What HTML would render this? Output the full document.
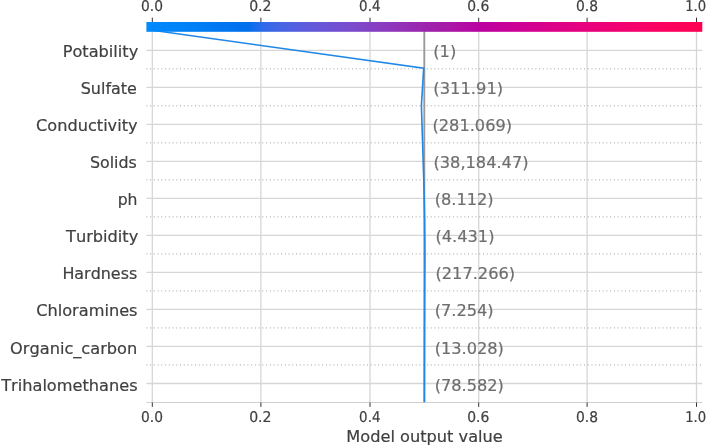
<!DOCTYPE html>
<html><head><meta charset="utf-8"><title>Decision plot</title>
<style>
html,body{margin:0;padding:0;background:#fff;}
body{width:707px;height:447px;overflow:hidden;}
svg{display:block;}
text{font-family:"DejaVu Sans","Liberation Sans",sans-serif;font-kerning:none;font-feature-settings:"kern" 0;}
.t{font-size:13.70px;fill:#404040;stroke:#404040;stroke-width:0.2px;text-anchor:middle;text-rendering:geometricPrecision;}
.f{font-size:16.20px;fill:#404040;stroke:#404040;stroke-width:0.2px;text-anchor:end;}
.v{font-size:16.20px;fill:#6e6e6e;stroke:#6e6e6e;stroke-width:0.2px;}
</style></head><body>
<svg width="707" height="447" viewBox="0 0 707 447">
<defs><linearGradient id="cb" x1="0" x2="1" y1="0" y2="0"><stop offset="0.000" stop-color="#008bfb"/><stop offset="0.030" stop-color="#0086fa"/><stop offset="0.061" stop-color="#0082f8"/><stop offset="0.091" stop-color="#007ef6"/><stop offset="0.121" stop-color="#0079f3"/><stop offset="0.152" stop-color="#0074f0"/><stop offset="0.182" stop-color="#006fed"/><stop offset="0.212" stop-color="#306ae9"/><stop offset="0.242" stop-color="#4664e4"/><stop offset="0.273" stop-color="#575fdf"/><stop offset="0.303" stop-color="#6459da"/><stop offset="0.333" stop-color="#6f52d4"/><stop offset="0.364" stop-color="#794cce"/><stop offset="0.394" stop-color="#8244c7"/><stop offset="0.424" stop-color="#8a3cc0"/><stop offset="0.455" stop-color="#9233b9"/><stop offset="0.485" stop-color="#9829b1"/><stop offset="0.515" stop-color="#a01fab"/><stop offset="0.545" stop-color="#aa17a7"/><stop offset="0.576" stop-color="#b30aa3"/><stop offset="0.606" stop-color="#bc009f"/><stop offset="0.636" stop-color="#c5009a"/><stop offset="0.667" stop-color="#cd0095"/><stop offset="0.697" stop-color="#d40090"/><stop offset="0.727" stop-color="#db008a"/><stop offset="0.758" stop-color="#e10084"/><stop offset="0.788" stop-color="#e7007e"/><stop offset="0.818" stop-color="#ec0078"/><stop offset="0.848" stop-color="#f10072"/><stop offset="0.879" stop-color="#f6006c"/><stop offset="0.909" stop-color="#fa0065"/><stop offset="0.939" stop-color="#fd005f"/><stop offset="0.970" stop-color="#ff0058"/><stop offset="1.000" stop-color="#ff0051"/></linearGradient></defs>
<rect width="707" height="447" fill="#fff"/>
<g stroke="#d6d6d6" stroke-width="1.30" fill="none">
<line x1="152.30" y1="22.00" x2="152.30" y2="402.50"/><line x1="260.90" y1="22.00" x2="260.90" y2="402.50"/><line x1="370.00" y1="22.00" x2="370.00" y2="402.50"/><line x1="478.70" y1="22.00" x2="478.70" y2="402.50"/><line x1="587.10" y1="22.00" x2="587.10" y2="402.50"/><line x1="696.50" y1="22.00" x2="696.50" y2="402.50"/><line x1="146.40" y1="383.49" x2="702.30" y2="383.49"/><line x1="146.40" y1="346.47" x2="702.30" y2="346.47"/><line x1="146.40" y1="309.45" x2="702.30" y2="309.45"/><line x1="146.40" y1="272.43" x2="702.30" y2="272.43"/><line x1="146.40" y1="235.41" x2="702.30" y2="235.41"/><line x1="146.40" y1="198.39" x2="702.30" y2="198.39"/><line x1="146.40" y1="161.37" x2="702.30" y2="161.37"/><line x1="146.40" y1="124.35" x2="702.30" y2="124.35"/><line x1="146.40" y1="87.33" x2="702.30" y2="87.33"/><line x1="146.40" y1="50.31" x2="702.30" y2="50.31"/>
</g>
<g stroke="#a0a0a0" stroke-width="1" stroke-dasharray="1 2.74" fill="none">
<line x1="146.40" y1="364.98" x2="702.30" y2="364.98"/><line x1="146.40" y1="327.96" x2="702.30" y2="327.96"/><line x1="146.40" y1="290.94" x2="702.30" y2="290.94"/><line x1="146.40" y1="253.92" x2="702.30" y2="253.92"/><line x1="146.40" y1="216.90" x2="702.30" y2="216.90"/><line x1="146.40" y1="179.88" x2="702.30" y2="179.88"/><line x1="146.40" y1="142.86" x2="702.30" y2="142.86"/><line x1="146.40" y1="105.84" x2="702.30" y2="105.84"/><line x1="146.40" y1="68.82" x2="702.30" y2="68.82"/>
</g>
<line x1="146.40" y1="402.50" x2="702.30" y2="402.50" stroke="#d0d0d0" stroke-width="1"/>
<line x1="424.30" y1="22.00" x2="424.30" y2="402.50" stroke="#999999" stroke-width="1.87"/>
<polyline points="424.40,402.00 424.50,364.98 424.60,327.96 424.75,290.94 424.95,253.92 424.60,216.90 423.75,179.88 422.60,142.86 421.40,105.84 423.70,68.20 152.30,30.20" fill="none" stroke="#1f87e6" stroke-width="1.6" stroke-linejoin="miter"/>
<rect x="146.40" y="22.00" width="555.90" height="9.80" fill="url(#cb)"/>
<g stroke="#333" stroke-width="1">
<line x1="152.30" y1="17.64" x2="152.30" y2="22.00"/><line x1="152.30" y1="402.50" x2="152.30" y2="406.86"/><line x1="260.90" y1="17.64" x2="260.90" y2="22.00"/><line x1="260.90" y1="402.50" x2="260.90" y2="406.86"/><line x1="370.00" y1="17.64" x2="370.00" y2="22.00"/><line x1="370.00" y1="402.50" x2="370.00" y2="406.86"/><line x1="478.70" y1="17.64" x2="478.70" y2="22.00"/><line x1="478.70" y1="402.50" x2="478.70" y2="406.86"/><line x1="587.10" y1="17.64" x2="587.10" y2="22.00"/><line x1="587.10" y1="402.50" x2="587.10" y2="406.86"/><line x1="696.50" y1="17.64" x2="696.50" y2="22.00"/><line x1="696.50" y1="402.50" x2="696.50" y2="406.86"/>
</g>
<text class="t" transform="translate(152.04 10.90) scale(1 1.080)" textLength="21.90" lengthAdjust="spacingAndGlyphs">0.0</text><text class="t" transform="translate(152.04 421.50) scale(1 1.080)" textLength="21.90" lengthAdjust="spacingAndGlyphs">0.0</text>
<text class="t" transform="translate(260.35 10.90) scale(1 1.080)" textLength="22.38" lengthAdjust="spacingAndGlyphs">0.2</text><text class="t" transform="translate(260.35 421.50) scale(1 1.080)" textLength="22.38" lengthAdjust="spacingAndGlyphs">0.2</text>
<text class="t" transform="translate(369.77 10.90) scale(1 1.080)" textLength="21.32" lengthAdjust="spacingAndGlyphs">0.4</text><text class="t" transform="translate(369.77 421.50) scale(1 1.080)" textLength="21.32" lengthAdjust="spacingAndGlyphs">0.4</text>
<text class="t" transform="translate(478.21 10.90) scale(1 1.080)" textLength="22.05" lengthAdjust="spacingAndGlyphs">0.6</text><text class="t" transform="translate(478.21 421.50) scale(1 1.080)" textLength="22.05" lengthAdjust="spacingAndGlyphs">0.6</text>
<text class="t" transform="translate(586.94 10.90) scale(1 1.080)" textLength="22.01" lengthAdjust="spacingAndGlyphs">0.8</text><text class="t" transform="translate(586.94 421.50) scale(1 1.080)" textLength="22.01" lengthAdjust="spacingAndGlyphs">0.8</text>
<text class="t" transform="translate(695.71 10.90) scale(1 1.080)" textLength="20.98" lengthAdjust="spacingAndGlyphs">1.0</text><text class="t" transform="translate(695.71 421.50) scale(1 1.080)" textLength="20.98" lengthAdjust="spacingAndGlyphs">1.0</text>
<text class="f" x="137.56" y="390.89" textLength="136.34" lengthAdjust="spacingAndGlyphs">Trihalomethanes</text>
<text class="f" x="137.30" y="354.27" textLength="127.24" lengthAdjust="spacingAndGlyphs">Organic_carbon</text>
<text class="f" x="137.56" y="316.25" textLength="101.41" lengthAdjust="spacingAndGlyphs">Chloramines</text>
<text class="f" x="137.25" y="279.23" textLength="74.87" lengthAdjust="spacingAndGlyphs">Hardness</text>
<text class="f" x="138.27" y="242.21" textLength="72.25" lengthAdjust="spacingAndGlyphs">Turbidity</text>
<text class="f" x="137.45" y="205.19" textLength="19.81" lengthAdjust="spacingAndGlyphs">ph</text>
<text class="f" x="136.84" y="168.17" textLength="46.91" lengthAdjust="spacingAndGlyphs">Solids</text>
<text class="f" x="137.52" y="131.15" textLength="101.41" lengthAdjust="spacingAndGlyphs">Conductivity</text>
<text class="f" x="136.86" y="94.13" textLength="56.11" lengthAdjust="spacingAndGlyphs">Sulfate</text>
<text class="f" x="138.27" y="57.11" textLength="75.55" lengthAdjust="spacingAndGlyphs">Potability</text>
<text class="v" x="434.66" y="390.89">(78.582)</text>
<text class="v" x="434.66" y="354.27">(13.028)</text>
<text class="v" x="434.66" y="316.25">(7.254)</text>
<text class="v" x="435.51" y="279.23">(217.266)</text>
<text class="v" x="435.51" y="242.21">(4.431)</text>
<text class="v" x="434.66" y="205.19">(8.112)</text>
<text class="v" x="433.51" y="168.17">(38,184.47)</text>
<text class="v" x="432.51" y="131.15">(281.069)</text>
<text class="v" x="433.31" y="94.13" textLength="69.90" lengthAdjust="spacingAndGlyphs">(311.91)</text>
<text class="v" x="433.31" y="57.11">(1)</text>
<text class="f" style="text-anchor:middle" x="424.60" y="441.60">Model output value</text>
</svg>
</body></html>
